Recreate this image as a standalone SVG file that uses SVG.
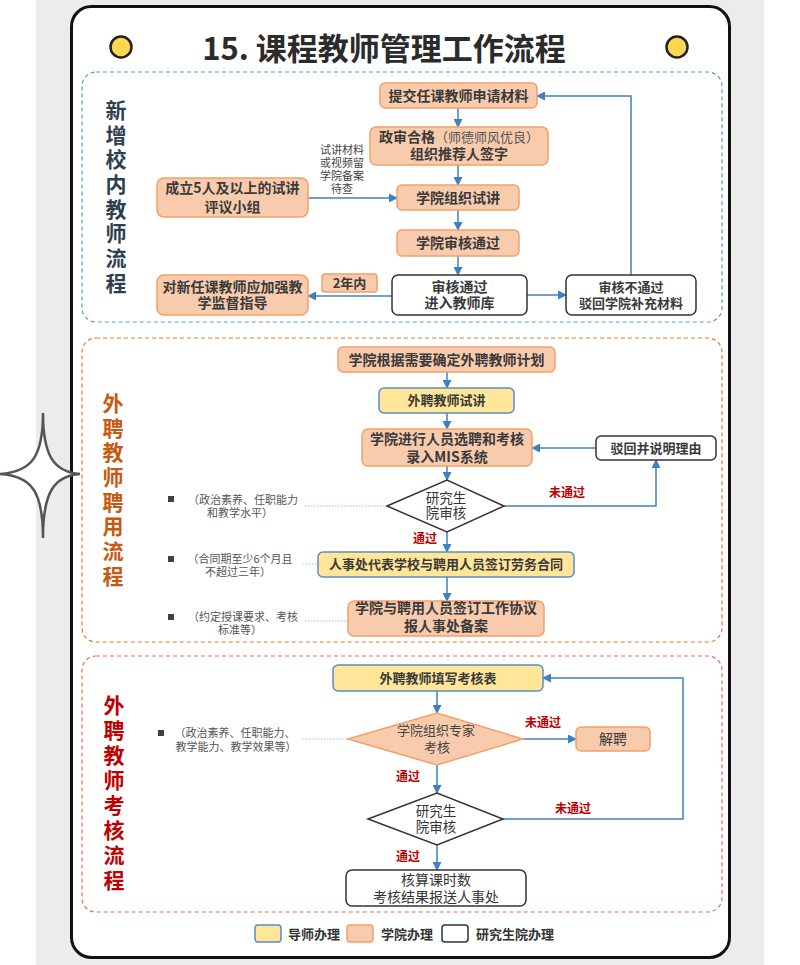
<svg xmlns="http://www.w3.org/2000/svg" width="800" height="965" viewBox="0 0 800 965">
<defs>
<style>
text{font-family:"Noto Sans CJK SC","Microsoft YaHei",sans-serif;}
.org{fill:#f8cbad;stroke:#f2a06a;stroke-width:1.5;}
.yel{fill:#ffe699;stroke:#5b8cc8;stroke-width:1.5;}
.wht{fill:#ffffff;stroke:#333333;stroke-width:1.5;}
.t{font-size:14px;font-weight:700;fill:#3a3a3a;text-anchor:middle;}
.t13{font-size:13px;font-weight:700;fill:#3a3a3a;text-anchor:middle;}
.tr{font-size:13.5px;font-weight:400;fill:#333;text-anchor:middle;}
.note{font-size:11px;fill:#555;text-anchor:middle;}
.red{font-size:12px;font-weight:700;fill:#c00000;text-anchor:middle;}
.conn{fill:none;stroke:#3f7fc4;stroke-width:1.5;}
.dot{fill:none;stroke:#9dc3e6;stroke-width:1;stroke-dasharray:1.5,1.5;}
.vl{font-size:21px;font-weight:700;writing-mode:vertical-rl;letter-spacing:3.7px;text-orientation:upright;}
</style>
<marker id="ah" markerWidth="9" markerHeight="9" refX="8" refY="4.5" orient="auto" markerUnits="userSpaceOnUse">
<path d="M0,0 L9,4.5 L0,9 Z" fill="#3f7fc4"/>
</marker>
</defs>

<rect x="0" y="0" width="800" height="965" fill="#ffffff"/>
<rect x="36" y="0" width="728" height="965" fill="#ececec"/>

<g id="card">
<rect x="71.5" y="6.5" width="658" height="951" rx="20" fill="#ffffff" stroke="#111" stroke-width="3"/>
</g>

<g id="star">
<path d="M43,413 C43,456 54,472 80,474 C54,476 43,492 43,538 C43,492 32,476 0,474 C32,472 43,456 43,413 Z" fill="#ffffff" stroke="#555" stroke-width="2.5"/>
</g>

<g id="title">
<circle cx="121" cy="47" r="10.5" fill="#ffd64f" stroke="#222" stroke-width="2.5"/>
<circle cx="677" cy="47" r="10.5" fill="#ffd64f" stroke="#222" stroke-width="2.5"/>
<text x="384" y="60" style="font-size:31px;font-weight:700;fill:#2b2b2b;text-anchor:middle;">15. 课程教师管理工作流程</text>
</g>

<!-- Section frames -->
<g id="section1">
<rect x="82" y="72" width="640" height="250" rx="14" fill="none" stroke="#5b9bd5" stroke-width="1.2" stroke-dasharray="4,3"/>
<text class="vl" fill="#2e3f50" x="116" y="99.5">新增校内教师流程</text>
</g>
<g id="section2">
<rect x="82" y="338" width="640" height="304" rx="14" fill="none" stroke="#e07b39" stroke-width="1.2" stroke-dasharray="4,3"/>
<text class="vl" fill="#c55a11" x="113" y="392.5">外聘教师聘用流程</text>
</g>
<g id="section3">
<rect x="82" y="656" width="640" height="256" rx="14" fill="none" stroke="#e8704f" stroke-width="1.2" stroke-dasharray="4,3"/>
<text class="vl" fill="#c00000" x="114" y="694.5" style="letter-spacing:4px">外聘教师考核流程</text>
</g>

<!-- Connectors -->
<g id="connectors">
<line class="conn" x1="458" y1="108" x2="458" y2="127" marker-end="url(#ah)"/>
<line class="conn" x1="458" y1="165" x2="458" y2="185" marker-end="url(#ah)"/>
<line class="conn" x1="458" y1="210" x2="458" y2="230" marker-end="url(#ah)"/>
<line class="conn" x1="458" y1="256" x2="458" y2="275" marker-end="url(#ah)"/>
<line class="conn" x1="308" y1="198" x2="397" y2="198" marker-end="url(#ah)"/>
<line class="conn" x1="392" y1="296" x2="308" y2="296" marker-end="url(#ah)"/>
<line class="conn" x1="527" y1="295" x2="566" y2="295" marker-end="url(#ah)"/>
<polyline class="conn" points="631,275 631,96 537,96" marker-end="url(#ah)"/>

<line class="conn" x1="447" y1="372" x2="447" y2="388" marker-end="url(#ah)"/>
<line class="conn" x1="447" y1="413" x2="447" y2="429" marker-end="url(#ah)"/>
<line class="conn" x1="447" y1="466" x2="447" y2="480" marker-end="url(#ah)"/>
<line class="conn" x1="447" y1="532" x2="447" y2="552" marker-end="url(#ah)"/>
<line class="conn" x1="447" y1="577" x2="447" y2="601" marker-end="url(#ah)"/>
<polyline class="conn" points="504,506 656,506 656,460" marker-end="url(#ah)"/>
<line class="conn" x1="596" y1="448" x2="532" y2="448" marker-end="url(#ah)"/>

<line class="conn" x1="437" y1="691" x2="437" y2="713" marker-end="url(#ah)"/>
<line class="conn" x1="437" y1="765" x2="437" y2="793" marker-end="url(#ah)"/>
<line class="conn" x1="437" y1="845" x2="437" y2="870" marker-end="url(#ah)"/>
<line class="conn" x1="523" y1="739" x2="576" y2="739" marker-end="url(#ah)"/>
<polyline class="conn" points="503,819 683,819 683,678 543,678" marker-end="url(#ah)"/>

<line class="dot" x1="305" y1="506" x2="387" y2="506"/>
<line class="dot" x1="303" y1="564" x2="318" y2="564"/>
<line class="dot" x1="305" y1="621" x2="348" y2="621"/>
<line class="dot" x1="303" y1="739" x2="348" y2="739"/>
</g>

<!-- Section 1 nodes -->
<g id="n1"><rect class="org" x="380" y="83" width="157" height="25" rx="5"/><text class="t" x="458.5" y="100.5">提交任课教师申请材料</text></g>
<g id="n2"><rect class="org" x="370" y="127" width="178" height="38" rx="6"/><text class="t" x="459" y="142"><tspan>政审合格</tspan><tspan style="font-weight:400;font-size:13px;fill:#555">（师德师风优良）</tspan></text><text class="t" x="459" y="159">组织推荐人签字</text></g>
<g id="n3"><rect class="org" x="397" y="185" width="122" height="25" rx="5"/><text class="t" x="458" y="202.5">学院组织试讲</text></g>
<g id="n4"><rect class="org" x="397" y="230" width="122" height="26" rx="5"/><text class="t" x="458" y="248">学院审核通过</text></g>
<g id="n5"><rect class="org" x="157" y="178" width="151" height="39" rx="7"/><text class="t" x="232.5" y="193">成立5人及以上的试讲</text><text class="t" x="232.5" y="212">评议小组</text></g>
<g id="note1"><text class="note" style="fill:#444" x="342" y="154">试讲材料</text><text class="note" style="fill:#444" x="342" y="167">或视频留</text><text class="note" style="fill:#444" x="342" y="180">学院备案</text><text class="note" style="fill:#444" x="342" y="193">待查</text></g>
<g id="n6"><rect class="wht" x="392" y="275" width="135" height="40" rx="6"/><text class="t" x="459.5" y="292">审核通过</text><text class="t" x="459.5" y="308">进入教师库</text></g>
<g id="n7"><rect class="wht" x="566" y="275" width="130" height="40" rx="6"/><text class="t13" x="631" y="292">审核不通过</text><text class="t13" x="631" y="308">驳回学院补充材料</text></g>
<g id="n8"><rect class="org" x="157" y="275" width="151" height="40" rx="7"/><text class="t" x="232.5" y="292">对新任课教师应加强教</text><text class="t" x="232.5" y="308">学监督指导</text></g>
<g id="n9"><rect class="org" x="322" y="274" width="55" height="18" rx="3"/><text class="t13" x="349.5" y="288">2年内</text></g>

<!-- Section 2 nodes -->
<g id="a1"><rect class="org" x="338" y="347" width="217" height="25" rx="5"/><text class="t" x="446.5" y="364.5">学院根据需要确定外聘教师计划</text></g>
<g id="a2"><rect class="yel" x="379" y="388" width="135" height="25" rx="5"/><text class="t13" x="446.5" y="405">外聘教师试讲</text></g>
<g id="a3"><rect class="org" x="362" y="429" width="170" height="37" rx="6"/><text class="t" x="447" y="444">学院进行人员选聘和考核</text><text class="t" x="447" y="462">录入MIS系统</text></g>
<g id="a4"><rect class="wht" x="596" y="436" width="120" height="24" rx="5"/><text class="t13" x="656" y="453">驳回并说明理由</text></g>
<g id="a5"><polygon class="wht" points="387,506 447,480 504,506 447,532"/><text class="tr" x="446" y="503">研究生</text><text class="tr" x="446" y="518">院审核</text></g>
<g id="a6"><rect class="yel" x="318" y="552" width="256" height="25" rx="5"/><text class="t13" x="446" y="569">人事处代表学校与聘用人员签订劳务合同</text></g>
<g id="a7"><rect class="org" x="348" y="601" width="196" height="35" rx="6"/><text class="t" x="446" y="613">学院与聘用人员签订工作协议</text><text class="t" x="446" y="631">报人事处备案</text></g>
<text class="red" x="567" y="497">未通过</text>
<text class="red" x="425" y="543">通过</text>

<g id="ann1"><rect x="168" y="496" width="6" height="6" fill="#404040"/><text class="note" x="243" y="504">（政治素养、任职能力</text><text class="note" x="240" y="517">和教学水平）</text></g>
<g id="ann2"><rect x="168" y="556" width="6" height="6" fill="#404040"/><text class="note" x="240" y="563">（合同期至少6个月且</text><text class="note" x="238" y="576">不超过三年）</text></g>
<g id="ann3"><rect x="168" y="614" width="6" height="6" fill="#404040"/><text class="note" x="243" y="621">（约定授课要求、考核</text><text class="note" x="240" y="634">标准等）</text></g>

<!-- Section 3 nodes -->
<g id="b1"><rect class="yel" x="333" y="665" width="210" height="26" rx="5"/><text class="t13" x="438" y="683">外聘教师填写考核表</text></g>
<g id="b2"><polygon class="org" points="348,739 437,713 523,739 437,765"/><text class="t13" style="font-weight:400;fill:#444" x="436" y="735">学院组织专家</text><text class="t13" style="font-weight:400;fill:#444" x="437" y="752">考核</text></g>
<g id="b3"><rect class="org" x="576" y="727" width="74" height="24" rx="5"/><text class="t" style="font-weight:400" x="613" y="744">解聘</text></g>
<g id="b4"><polygon class="wht" points="368,819 437,793 503,819 437,845"/><text class="tr" x="436" y="816">研究生</text><text class="tr" x="436" y="832">院审核</text></g>
<g id="b5"><rect class="wht" x="346" y="870" width="180" height="36" rx="6"/><text class="tr" style="font-size:14px" x="436" y="885">核算课时数</text><text class="tr" style="font-size:14px" x="436" y="902">考核结果报送人事处</text></g>
<text class="red" x="543" y="727">未通过</text>
<text class="red" x="573" y="813">未通过</text>
<text class="red" x="408" y="781">通过</text>
<text class="red" x="408" y="861">通过</text>
<g id="ann4"><rect x="158" y="730" width="6" height="6" fill="#404040"/><text class="note" x="235" y="737">（政治素养、任职能力、</text><text class="note" x="236" y="751">教学能力、教学效果等）</text></g>

<!-- Legend -->
<g id="legend">
<rect class="yel" x="255" y="925" width="26" height="17" rx="3"/><text x="288" y="939" style="font-size:13px;font-weight:700;fill:#333">导师办理</text>
<rect class="org" x="347" y="925" width="26" height="17" rx="3"/><text x="381" y="939" style="font-size:13px;font-weight:700;fill:#333">学院办理</text>
<rect class="wht" x="442" y="925" width="26" height="17" rx="3"/><text x="476" y="939" style="font-size:13px;font-weight:700;fill:#333">研究生院办理</text>
</g>
</svg>
